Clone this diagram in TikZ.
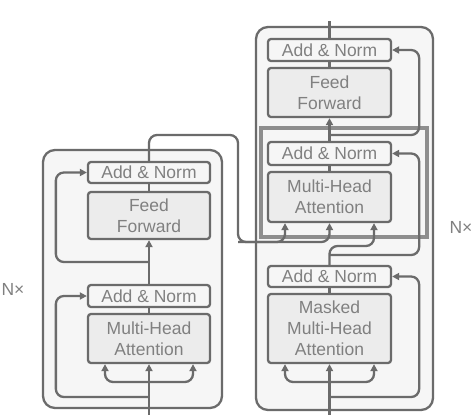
\documentclass[tikz,border=0pt]{standalone}
\usepackage{fontspec}
\setmainfont{Liberation Sans}
\usetikzlibrary{arrows.meta}
\definecolor{linegray}{HTML}{6B6B6B}
\definecolor{textgray}{HTML}{808080}
\definecolor{blockfill}{HTML}{ECECEC}
\definecolor{normfill}{HTML}{F6F6F6}
\definecolor{outerfill}{HTML}{F6F6F6}
\definecolor{highlightgray}{HTML}{8E8E8E}
\begin{document}
\begin{tikzpicture}[x=1pt,y=-1pt]

  \tikzset{
    layerbox/.style={
      draw=linegray,
      fill=outerfill,
      line width=2.3pt,
      rounded corners=12pt
    },
    highlight/.style={
      draw=highlightgray,
      line width=3.5pt
    },
    subblock/.style={
      rectangle,
      draw=linegray,
      fill=blockfill,
      line width=2.3pt,
      rounded corners=3pt,
      minimum width=122pt,
      inner sep=0pt,
      text=textgray,
      font=\fontsize{17.5}{21}\selectfont,
      align=center
    },
    normblock/.style={subblock, fill=normfill, minimum height=21pt},
    flow/.style={linegray, line width=2.3pt},
    flowarrow/.style={flow, -{Triangle[length=7pt,width=7pt]}, rounded corners=8pt},
    repeatlabel/.style={text=textgray, font=\fontsize{17.5}{17.5}\selectfont}
  }

  \useasboundingbox (0,0) rectangle (474,415);

  \draw[layerbox] (43,150) rectangle (222,408);
  \draw[layerbox] (256,27) rectangle (433,410);
  \draw[highlight] (261,128) rectangle (427,237);

  \node[normblock] (encNorm2) at (149,172.5) {Add \& Norm};
  \node[subblock, minimum height=47pt] (encFeed) at (149,215.5) {Feed\\Forward};
  \node[normblock, minimum height=22pt] (encNorm1) at (149,296) {Add \& Norm};
  \node[subblock, minimum height=49pt] (encAttn) at (149,338.5) {Multi-Head\\Attention};

  \node[normblock, minimum width=123pt, minimum height=22pt] (decNorm3) at (329.5,50) {Add \& Norm};
  \node[subblock, minimum width=123pt, minimum height=49pt] (decFeed) at (329.5,92.5) {Feed\\Forward};
  \node[normblock, minimum width=123pt, minimum height=23pt] (decNorm2) at (329.5,153.5) {Add \& Norm};
  \node[subblock, minimum width=123pt, minimum height=50pt] (decAttn2) at (329.5,197) {Multi-Head\\Attention};
  \node[normblock, minimum width=123pt] (decNorm1) at (329.5,276.5) {Add \& Norm};
  \node[subblock, minimum width=123pt, minimum height=69pt] (decAttn1) at (329.5,328.5) {Masked\\Multi-Head\\Attention};

  \node[repeatlabel] (encRepeat) at (13,289) {N×};
  \node[repeatlabel] (decRepeat) at (461,227) {N×};

  \coordinate (encIn) at (149,415);
  \coordinate (encFork) at (149,382);
  \coordinate (encSkip1) at (149,397);
  \coordinate (encSkip2) at (149,262);
  \coordinate (encBend) at (238,135);
  \coordinate (memRail) at (238,242);
  \coordinate (decIn) at (329.5,415);
  \coordinate (decFork) at (329.5,382);
  \coordinate (decSkip1) at (329.5,397);
  \coordinate (decQuery) at (329.5,246);
  \coordinate (decSkip2) at (329.5,255);
  \coordinate (decSkip3) at (329.5,135);
  \coordinate (decOut) at (329.5,21);

  % encoder
  \draw[flowarrow] (encIn) -- (encAttn.south);
  \draw[flowarrow] (encFork) -| ([xshift=-44pt]encAttn.south);
  \draw[flowarrow] (encFork) -| ([xshift=44pt]encAttn.south);
  \draw[flowarrow] (encSkip1) -| ([xshift=-31pt]encNorm1.west) -- (encNorm1.west);
  \draw[flow] (encAttn.north) -- (encNorm1.south);
  \draw[flowarrow] (encNorm1.north) -- (encFeed.south);
  \draw[flowarrow] (encSkip2) -| ([xshift=-31pt]encNorm2.west) -- (encNorm2.west);
  \draw[flow] (encFeed.north) -- (encNorm2.south);
  \draw[flowarrow] (encNorm2.north) |- (encBend) -- (memRail) -| ([xshift=-44.5pt]decAttn2.south);
  \draw[flowarrow] (memRail) -| (decAttn2.south);

  % decoder
  \draw[flowarrow] (decIn) -- (decAttn1.south);
  \draw[flowarrow] (decFork) -| ([xshift=-44.5pt]decAttn1.south);
  \draw[flowarrow] (decFork) -| ([xshift=44.5pt]decAttn1.south);
  \draw[flowarrow] (decSkip1) -| ([xshift=27pt]decNorm1.east) -- (decNorm1.east);
  \draw[flow] (decAttn1.north) -- (decNorm1.south);
  \draw[flowarrow] (decNorm1.north) -- (decQuery) -| ([xshift=44.5pt]decAttn2.south);
  \draw[flowarrow] (decSkip2) -| ([xshift=27pt]decNorm2.east) -- (decNorm2.east);
  \draw[flow] (decAttn2.north) -- (decNorm2.south);
  \draw[flowarrow] (decNorm2.north) -- (decFeed.south);
  \draw[flowarrow] (decSkip3) -| ([xshift=27pt]decNorm3.east) -- (decNorm3.east);
  \draw[flow] (decFeed.north) -- (decNorm3.south);
  \draw[flow] (decNorm3.north) -- (decOut);

\end{tikzpicture}
\end{document}
